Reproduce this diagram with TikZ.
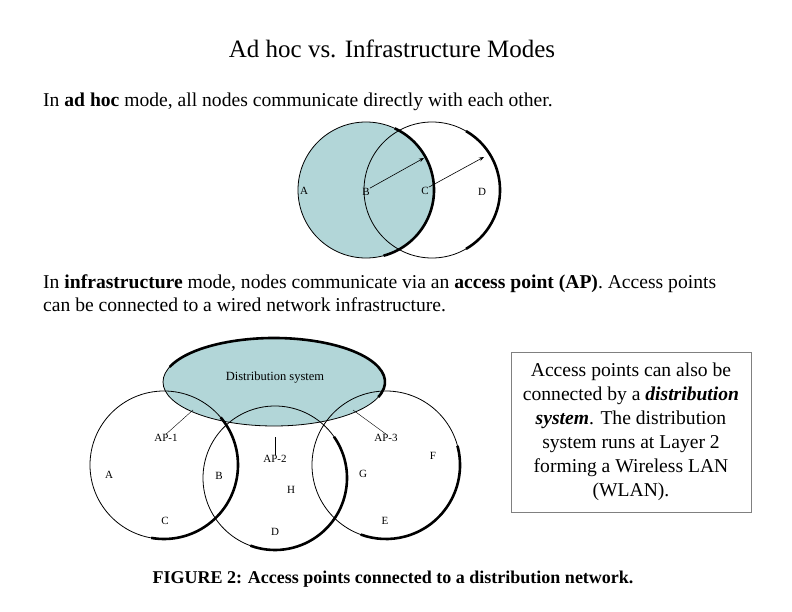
\documentclass[tikz,border=0pt]{standalone}
\usepackage{fontspec}
\setmainfont{Liberation Serif}
\usetikzlibrary{arrows.meta}
\definecolor{fillc}{RGB}{178,214,216}
\begin{document}
\begin{tikzpicture}[x=1pt,y=-1pt,
  txt/.style={anchor=west,inner sep=0,font=\fontsize{19.6}{23}\selectfont},
  lab/.style={inner sep=0,font=\fontsize{11}{12}\selectfont},
  thin/.style={line width=0.8pt},
  thick/.style={line width=2.6pt},
  arr/.style={-{Stealth[length=5pt]},line width=0.6pt}]
\useasboundingbox (0,0) rectangle (792,612);
\node[inner sep=0,font=\fontsize{25}{28}\selectfont] (title) at (392,49) {Ad hoc vs. Infrastructure Modes};
\node[txt] (p1) at (43,102) {In \textbf{ad hoc} mode, all nodes communicate directly with each other.};
\node[txt,align=left,anchor=west] (p2) at (43,293.5) {In \textbf{infrastructure} mode, nodes communicate via an \textbf{access point (AP)}. Access points\\can be connected to a wired network infrastructure.};
% ad hoc
\fill[fillc] (366,190) circle (68);
\draw[thin] (366,190) circle (68);
\draw[thick] (366,190) ++(-65:68) arc (-65:75:68);
\draw[thin] (432,190) circle (68);
\draw[thick] (432,190) ++(-60:68) arc (-60:60:68);
\node[lab] (a) at (304,191) {A};
\node[lab] (b) at (366,192) {B};
\node[lab] (c) at (425,191) {C};
\node[lab] (d) at (482,192) {D};
\coordinate (t1) at (424,158);
\coordinate (t2) at (484,157);
\draw[arr] (b.north east) -- (t1);
\draw[arr] (c.north east) -- (t2);
% infrastructure
\fill[fillc] (274,382) ellipse (111 and 44);
\draw[thin] (274,382) ellipse (111 and 44);
\draw[thick] (274,382) ++(-160:111 and 44) arc (-160:20:111 and 44);
\node[lab,font=\fontsize{12.5}{14}\selectfont] (ds) at (275,378) {Distribution system};
\draw[thin] (164,465) circle (74);
\draw[thick] (164,465) ++(-40:74) arc (-40:100:74);
\draw[thin] (275,478) circle (72);
\draw[thick] (275,478) ++(-35:72) arc (-35:110:72);
\draw[thin] (386,465) circle (74);
\draw[thick] (386,465) ++(-15:74) arc (-15:110:74);
\node[lab] (ap1) at (166,438) {AP-1};
\node[lab] (ap2) at (275,459) {AP-2};
\node[lab] (ap3) at (386,438) {AP-3};
\coordinate (l1) at (193,410);
\coordinate (l2) at (275,437);
\coordinate (l3) at (353,410);
\draw[line width=0.4pt] (ap1.north) -- (l1);
\draw[line width=0.4pt] (ap2.north) -- (l2);
\draw[line width=0.4pt] (ap3.north) -- (l3);
\node[lab] (na) at (109,475) {A};
\node[lab] (nb) at (219,476) {B};
\node[lab] (nh) at (291,490) {H};
\node[lab] (ng) at (363,474) {G};
\node[lab] (nf) at (433,456) {F};
\node[lab] (nc) at (165,521) {C};
\node[lab] (nd) at (275,532) {D};
\node[lab] (ne) at (385,521) {E};
\node[draw=gray,line width=0.8pt,minimum width=240pt,minimum height=160pt,align=center,inner sep=0,font=\fontsize{19.6}{24}\selectfont] (box) at (631,432) {Access points can also be\\connected by a \textbf{\textit{distribution}}\\\textbf{\textit{system}}. The distribution\\system runs at Layer 2\\forming a Wireless LAN\\(WLAN).};
\node[inner sep=0,font=\bfseries\fontsize{18}{20}\selectfont] (cap) at (393,579) {FIGURE 2: Access points connected to a distribution network.};
\end{tikzpicture}
\end{document}
